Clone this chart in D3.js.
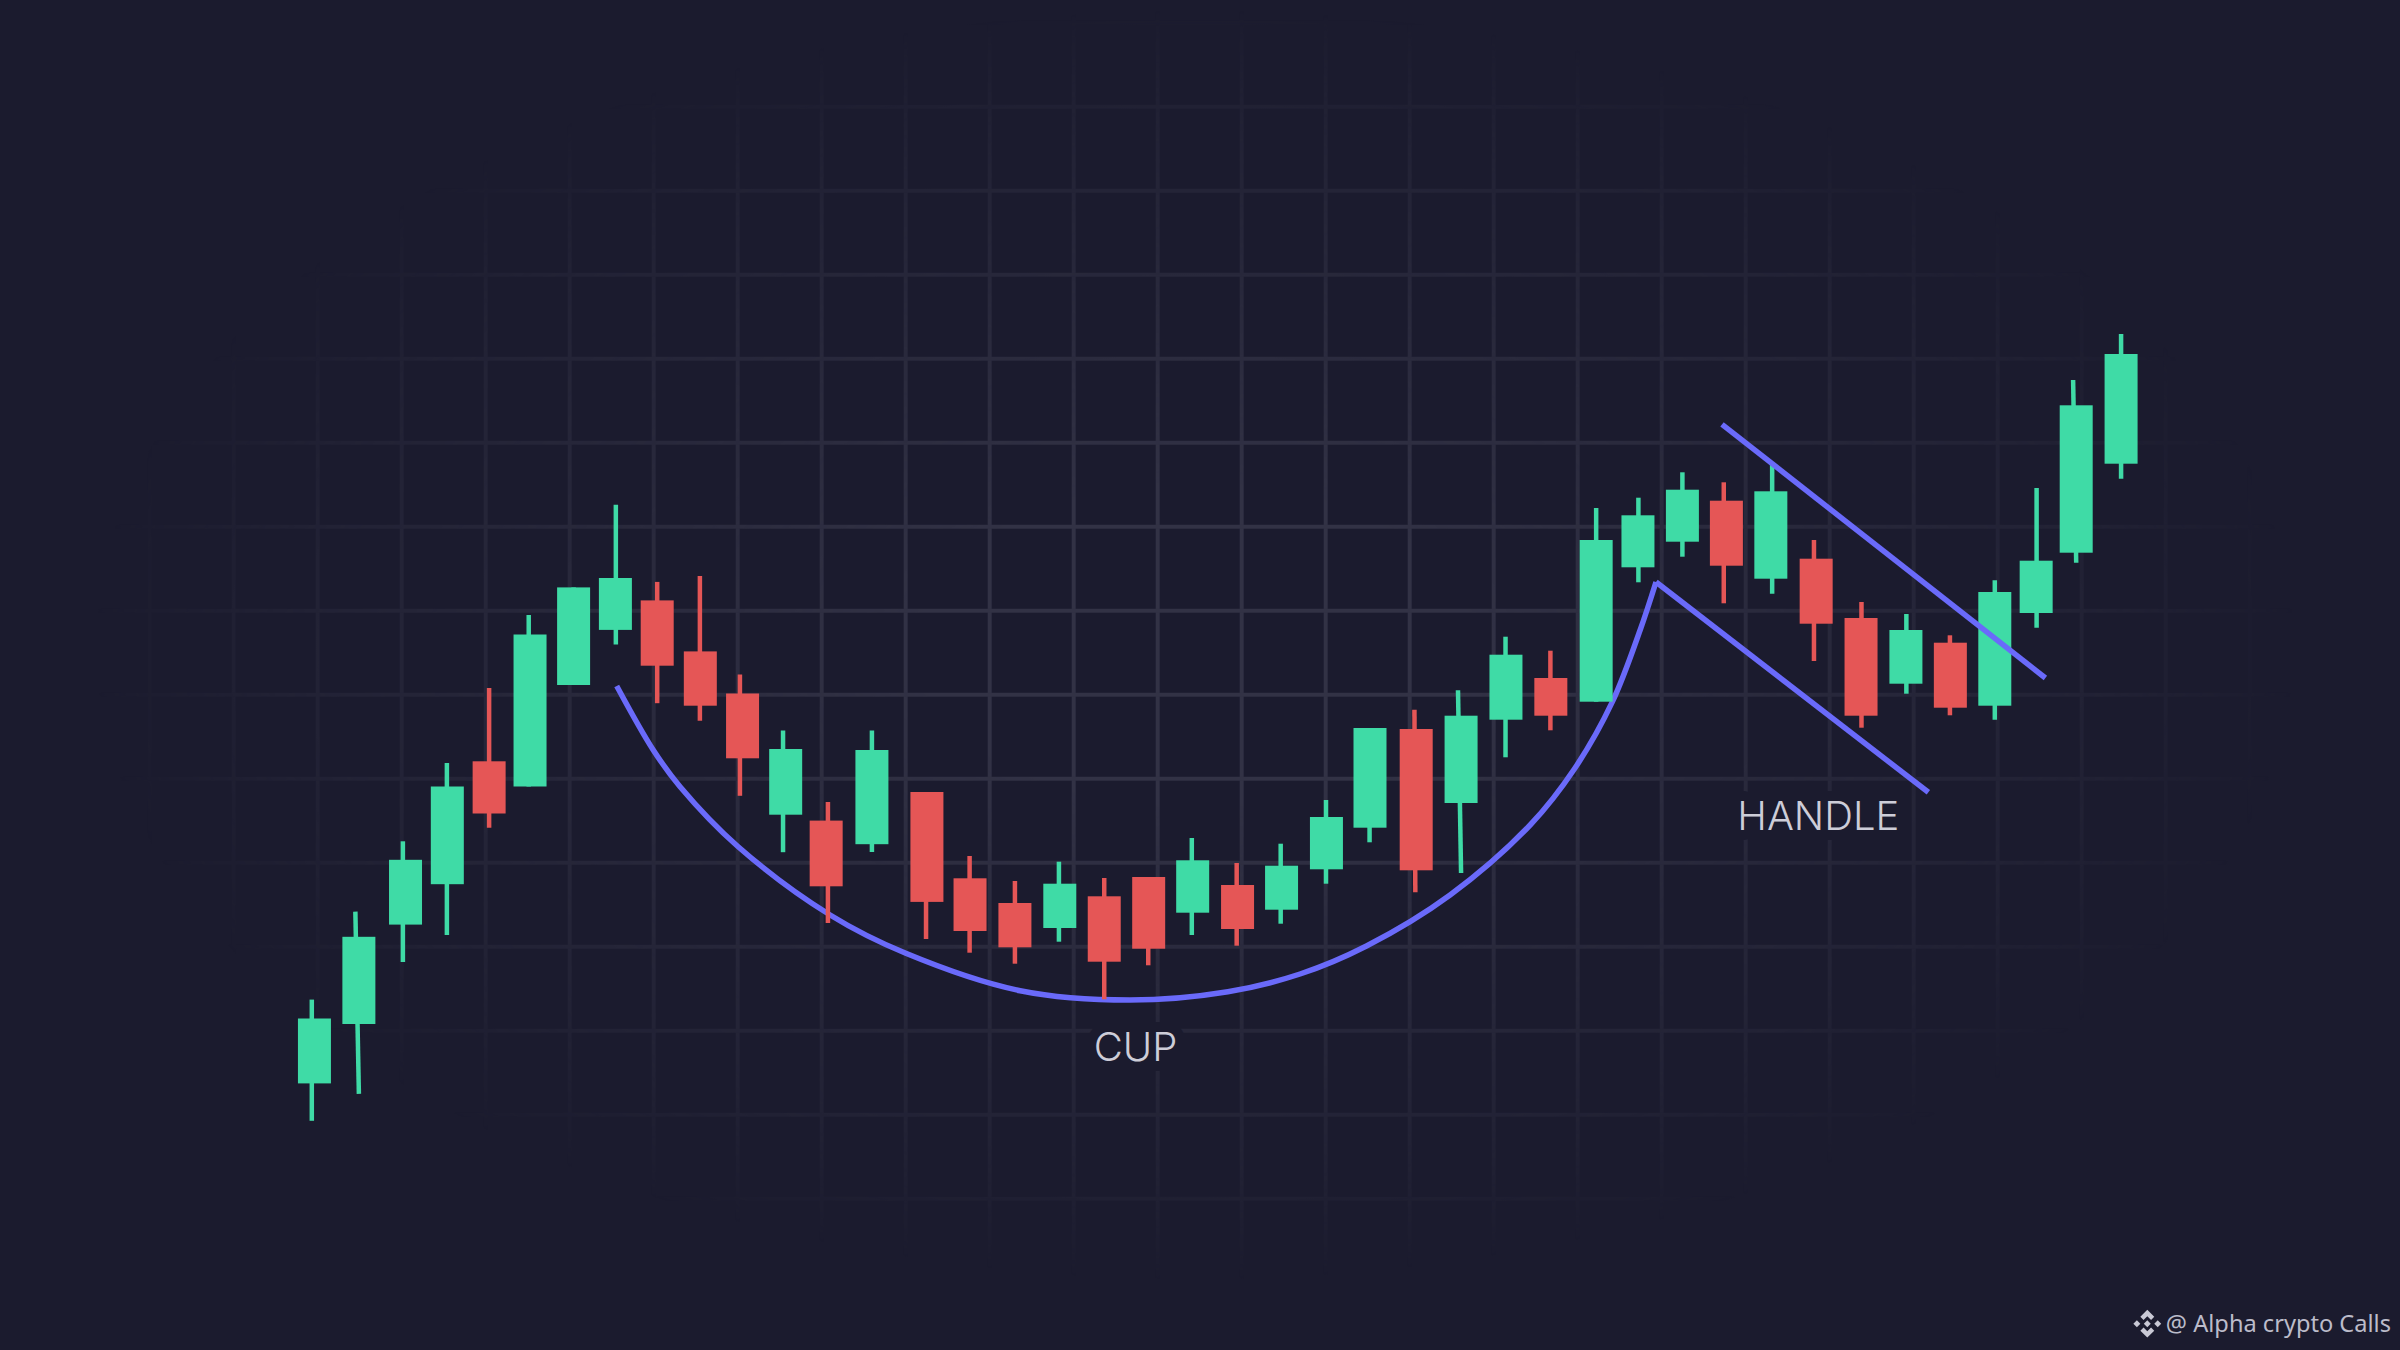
<!DOCTYPE html>
<html>
<head>
<meta charset="utf-8">
<title>Cup and handle</title>
<script src="https://cdn.jsdelivr.net/npm/d3@7"></script>
<style>
html,body{margin:0;padding:0;background:#1b1b2e;}
svg{display:block;}
</style>
</head>
<body>
<script>
const bodySlots = [0.01,1.02,2.08,3.03,3.98,4.91,5.90,6.85,7.80,8.78,9.74,10.72,11.64,12.68,13.93,14.91,15.93,16.95,17.96,18.97,19.97,20.99,21.99,23.01,24.00,25.05,26.07,27.09,28.11,29.14,30.09,31.10,32.10,33.11,34.14,35.16,36.18,37.19,38.20,39.14,40.05,41.07];
const highSlots = [-0.05,0.94,2.02,3.02,3.98,4.88,5.90,6.86,7.80,8.77,9.68,10.66,11.68,12.68,13.91,14.90,15.93,16.93,17.96,18.96,19.95,20.97,21.97,23.00,23.99,25.01,26.00,27.08,28.10,29.14,30.10,31.10,32.04,33.14,34.09,35.17,36.19,37.18,38.20,39.15,39.98,41.07];
const lowSlots = [-0.05,1.02,2.02,3.02,3.98,4.88,5.90,6.86,7.80,8.77,9.68,10.66,11.68,12.68,13.91,14.90,15.93,16.93,17.96,18.96,19.95,20.97,21.97,23.00,23.99,25.03,26.07,27.08,28.10,29.14,30.10,31.10,32.04,33.14,34.09,35.17,36.19,37.18,38.20,39.15,40.05,41.07];
const opens = [266.6,326,425.4,465.8,588.7,563.5,665,720.1,749.6,698.6,656.5,535.3,529.4,505.8,558,471.7,447,422,453.7,473,437.3,465,440.3,480.7,522.3,621,547,630.3,672,648.3,782.7,808.3,849.3,771.3,791.3,732,666.3,707.3,644.3,737,797.3,886.3];
const closes = [331.5,413.2,490.2,563.5,536.5,715.5,762.6,772,684.3,644.3,591.7,601,463.7,600,448.1,419,402.7,466.3,388.3,401.3,489.7,421,484.3,533,622,479.7,634.3,695.3,634.3,810,834.7,860.3,784.3,858.7,726.3,634.3,720,642.3,758,789.3,944.7,996];
const highs = [350.4,438.4,508.7,587,662,735,762.6,845.2,768.1,774,675.5,619.5,548,619.5,558,494,469,488.3,472,473,512,487,506.3,550,622,640.3,659.7,713.3,699.3,842,852.3,877.7,867.7,885,810,748,736,714.7,769.7,862,970,1016];
const lows = [229.2,256.1,388,415,522.2,563.5,665,705.4,646.8,629.2,554.2,497.8,427,498,411,397.3,386.3,408.3,350.7,384.7,415,404.3,426.3,466.3,507.7,457.7,477,592.7,619.7,648.3,767.7,793.3,746.7,756.3,689,622.3,656.3,634.7,630.3,722.3,787.3,871.3];

const cupSlots = [6.88,7.71,8.32,9.64,11.73,13.45,16.05,18.54,20.77,22.41,23.92,25.82,27.64,28.66,29.51,30.14,30.50];
const cupPrices = [664,600,563.3,503.3,435,396.7,359.3,350,358.3,376,404,455,525,582,648.3,720,768];
const handleUpperSlots = [32.0,39.35];
const handleUpperPrices = [925.7,672];
const handleLowerSlots = [30.50,36.69];
const handleLowerPrices = [768,557.7];

const labelTexts = ["CUP","HANDLE"];
const labelSlots = [18.67,34.19];
const labelPrices = [289.5,520];
const watermark = "@ Alpha crypto Calls";

const W = 2400, H = 1350;
const BG = "#1b1b2e", UP = "#3fdba6", DOWN = "#e55656", PATTERN = "#6a6afa", GRID = "#323245", LABEL = "#cdcdd8";

const x = d3.scaleLinear().domain([0,44]).range([314,2250]);
const y = d3.scaleLinear().domain([0,1350]).range([1350,0]);
const gridX = d3.scaleLinear().domain([0,1]).range([821.7,905.7]);
const gridY = d3.scaleLinear().domain([0,1]).range([106.7,190.7]);
const bodyWidth = x(0.75) - x(0);

const svg = d3.select("body").append("svg").attr("width",W).attr("height",H).attr("viewBox",[0,0,W,H]);
svg.append("rect").attr("width",W).attr("height",H).attr("fill",BG);

const defs = svg.append("defs");
const grad = defs.append("radialGradient").attr("id","fade").attr("gradientUnits","userSpaceOnUse")
  .attr("cx",0).attr("cy",0).attr("r",1)
  .attr("gradientTransform","translate(1195 645) scale(1100 635)");
[[0,1],[0.25,1],[0.6,0.55],[0.8,0.33],[0.95,0.1],[1,0]].forEach(([o,a])=>{
  grad.append("stop").attr("offset",o).attr("stop-color","#fff").attr("stop-opacity",a);
});
defs.append("mask").attr("id","gridMask").attr("maskUnits","userSpaceOnUse")
  .attr("x",0).attr("y",0).attr("width",W).attr("height",H)
  .append("rect").attr("width",W).attr("height",H).attr("fill","url(#fade)");

const grid = svg.append("g").attr("mask","url(#gridMask)").attr("stroke",GRID).attr("stroke-width",4);
grid.selectAll("line.v").data(d3.range(-9,19)).join("line").attr("class","v")
  .attr("x1",d=>gridX(d)).attr("x2",d=>gridX(d)).attr("y1",0).attr("y2",H);
grid.selectAll("line.h").data(d3.range(-1,15)).join("line").attr("class","h")
  .attr("y1",d=>gridY(d)).attr("y2",d=>gridY(d)).attr("x1",0).attr("x2",W);

const labels = svg.append("g").attr("font-family","Inter").attr("font-size",40).attr("font-weight",350)
  .attr("text-anchor","middle").attr("fill",LABEL);
labels.selectAll("text").data(labelTexts).join("text")
  .attr("x",(d,i)=>x(labelSlots[i])).attr("y",(d,i)=>y(labelPrices[i]))
  .attr("stroke",BG).attr("stroke-width",20).attr("stroke-linejoin","round").attr("paint-order","stroke")
  .text(d=>d);

const line = d3.line().x(d=>x(d[0])).y(d=>y(d[1]));
svg.append("path").datum(d3.zip(cupSlots,cupPrices))
  .attr("d",line.curve(d3.curveCatmullRom.alpha(0.5)))
  .attr("fill","none").attr("stroke",PATTERN).attr("stroke-width",5.5);

const candles = svg.append("g").selectAll("g").data(opens).join("g")
  .attr("fill",(d,i)=>closes[i]>=d?UP:DOWN).attr("stroke",(d,i)=>closes[i]>=d?UP:DOWN);
candles.append("line").attr("stroke-width",4.5)
  .attr("x1",(d,i)=>x(highSlots[i])).attr("y1",(d,i)=>y(highs[i]))
  .attr("x2",(d,i)=>x(lowSlots[i])).attr("y2",(d,i)=>y(lows[i]));
candles.append("rect").attr("stroke","none")
  .attr("x",(d,i)=>x(bodySlots[i])-bodyWidth/2).attr("width",bodyWidth)
  .attr("y",(d,i)=>y(Math.max(d,closes[i])))
  .attr("height",(d,i)=>Math.abs(y(d)-y(closes[i])));

const straight = d3.line().x(d=>x(d[0])).y(d=>y(d[1]));
[[handleUpperSlots,handleUpperPrices],[handleLowerSlots,handleLowerPrices]].forEach(([s,p])=>{
  svg.append("path").datum(d3.zip(s,p)).attr("d",straight)
    .attr("fill","none").attr("stroke",PATTERN).attr("stroke-width",5.5);
});

// Watermark logo and credit
const logo = svg.append("g").attr("transform","translate(2147.3 1323.7) scale(13.9)").attr("fill","#c9c9d5");
const logoShapes = [
  [[0,-1],[0.5,-0.5],[0.27,-0.27],[0,-0.54],[-0.27,-0.27],[-0.5,-0.5]],
  [[0,1],[0.5,0.5],[0.27,0.27],[0,0.54],[-0.27,0.27],[-0.5,0.5]],
  [[0,-0.25],[0.25,0],[0,0.25],[-0.25,0]],
  [[-0.75,-0.25],[-0.5,0],[-0.75,0.25],[-1,0]],
  [[0.75,-0.25],[1,0],[0.75,0.25],[0.5,0]]
];
logo.selectAll("polygon").data(logoShapes).join("polygon").attr("points",d=>d.join(" "));
svg.append("text").attr("x",2391).attr("y",1331.5).attr("text-anchor","end")
  .attr("font-family","'Noto Sans'").attr("font-size",23.6).attr("fill","#bcbcca").text(watermark);
</script>
</body>
</html>
